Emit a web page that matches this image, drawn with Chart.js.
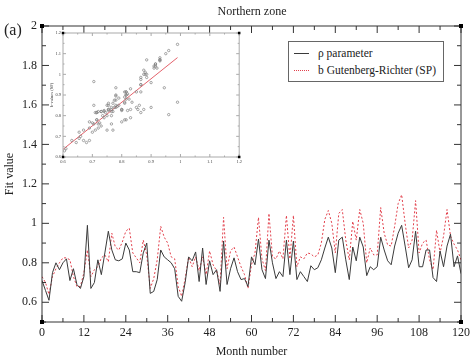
<!DOCTYPE html>
<html>
<head>
<meta charset="utf-8">
<script src="https://cdn.jsdelivr.net/npm/chart.js@4"></script>
<style>
  body{ margin:0; background:#fff; }
  #wrap{ position:relative; width:474px; height:362px; font-family:'Liberation Serif', serif; color:#222; }
  #mainChart{ position:absolute; left:0; top:0; }
  #insetChart{ position:absolute; left:44px; top:28px; }
  #title{ position:absolute; left:152px; width:200px; top:4px; text-align:center; font-size:12px; font-family:'Liberation Serif', serif; }
  #tag{ position:absolute; left:4px; top:22px; font-size:16px; line-height:16px; font-family:'Liberation Serif', serif; }
  #legend{ position:absolute; left:288px; top:41px; width:154px; height:39px; border:1px solid #666; background:#fff; font-size:11.5px; font-family:'Liberation Serif', serif; }
  #legend .row{ position:absolute; left:0; height:14px; line-height:14px; white-space:nowrap; }
  #legend .swatch{ position:absolute; left:5px; top:7px; width:15px; height:0; }
  #legend .lbl{ position:absolute; left:29px; top:0; }
</style>
</head>
<body>
<div id="wrap">
  <canvas id="mainChart" width="474" height="362"></canvas>
  <canvas id="insetChart" width="200" height="140"></canvas>
  <div id="title">Northern zone</div>
  <div id="tag">(a)</div>
  <div id="legend"></div>
</div>
<script>
// month index 0..120
const months = Array.from({length:121}, (_, i) => i);

// rho parameter (black solid)
const rhoValues = [
  0.71,0.66,0.61,0.75,0.80,0.765,0.80,0.82,0.71,0.77,
  0.69,0.67,0.73,0.99,0.67,0.70,0.815,0.74,0.85,0.96,
  0.865,0.815,0.81,0.82,0.90,0.865,0.755,0.755,0.75,0.85,
  0.90,0.645,0.655,0.715,0.865,0.83,0.815,0.80,0.77,0.63,
  0.605,0.70,0.83,0.81,0.855,0.705,0.875,0.69,0.81,0.74,
  0.765,0.655,0.91,0.69,0.77,0.825,0.755,0.715,0.72,0.68,
  0.83,0.79,0.92,0.765,0.72,0.915,0.80,0.72,0.755,0.73,
  0.915,0.74,0.91,0.715,0.755,0.73,0.705,0.785,0.765,0.775,
  0.815,0.875,0.93,0.875,0.75,0.915,0.93,0.815,0.715,0.88,
  0.81,0.93,0.88,0.735,0.78,0.765,0.78,0.93,0.865,0.81,
  0.79,0.885,0.95,0.99,0.885,0.775,0.815,0.96,0.78,0.78,
  0.865,0.865,0.725,0.705,0.86,0.78,0.885,0.945,0.78,0.835,
  0.745
];

// b Gutenberg-Richter (SP) (red dashed)
const bValues = [
  0.73,0.70,0.64,0.73,0.77,0.80,0.825,0.825,0.815,0.73,
  0.68,0.68,0.75,0.865,0.73,0.765,0.78,0.825,0.84,0.805,
  0.95,0.88,0.865,0.905,0.96,0.975,0.85,0.825,0.80,0.915,
  0.84,0.67,0.72,0.815,0.985,0.93,0.90,0.83,0.82,0.68,
  0.63,0.72,0.83,0.78,0.83,0.76,0.83,0.74,0.86,0.79,
  0.76,0.69,1.03,0.77,0.86,0.88,0.83,0.78,0.74,0.67,
  0.79,0.85,1.03,0.82,0.76,1.05,0.83,0.82,0.86,0.82,
  1.04,0.82,1.04,0.78,0.83,0.82,0.85,0.845,0.83,0.84,
  0.90,1.02,1.065,1.0,0.85,1.05,1.07,0.915,0.815,1.01,
  0.915,1.07,1.0,0.80,0.875,0.84,0.84,1.08,0.95,0.89,
  0.885,0.985,1.10,1.145,1.0,0.875,0.915,1.115,0.85,0.90,
  0.915,0.815,0.765,0.965,0.85,0.935,1.07,0.935,0.895,0.865,
  0.815
];

// inset linear fit (b vs rho)
const fitX = [0.6, 0.99];
const fitY = [0.637, 1.081];

const FONT = "'Liberation Serif', serif";
const TXT = '#222';

function isMult(v, step){ const r = v/step; return Math.abs(r - Math.round(r)) < 1e-6; }
function fmt(v){ return String(+v.toFixed(2)); }

// box frame, inward ticks on all four sides, corner squares
const framePlugin = {
  id:'frame',
  afterDatasetsDraw(chart, args, o){
    const {ctx, chartArea:a, scales:{x, y}} = chart;
    ctx.save();
    ctx.strokeStyle = o.color; ctx.lineWidth = 1;
    ctx.strokeRect(a.left, a.top, a.right - a.left, a.bottom - a.top);
    ctx.beginPath();
    x.ticks.forEach(t=>{
      const px = x.getPixelForValue(t.value);
      const len = isMult(t.value, o.majorX) ? o.major : o.minor;
      ctx.moveTo(px, a.bottom); ctx.lineTo(px, a.bottom - len);
      ctx.moveTo(px, a.top); ctx.lineTo(px, a.top + len);
    });
    y.ticks.forEach(t=>{
      const py = y.getPixelForValue(t.value);
      const len = isMult(t.value, o.majorY) ? o.major : o.minor;
      ctx.moveTo(a.left, py); ctx.lineTo(a.left + len, py);
      ctx.moveTo(a.right, py); ctx.lineTo(a.right - len, py);
    });
    ctx.stroke();
    ctx.fillStyle = '#000';
    const s = o.square;
    [[a.left,a.top],[a.right,a.top],[a.left,a.bottom],[a.right,a.bottom]].forEach(([cx,cy])=>{
      ctx.fillRect(cx - s/2, cy - s/2, s, s);
    });
    ctx.restore();
  }
};

const mainChart = new Chart(document.getElementById('mainChart').getContext('2d'), {
  type:'line',
  data:{
    datasets:[
      { label:'ρ parameter', data: months.map((m,i)=>({x:m, y:rhoValues[i]})),
        borderColor:'#3a3a3a', borderWidth:1, pointRadius:0, tension:0 },
      { label:'b Gutenberg-Richter (SP)', data: months.map((m,i)=>({x:m, y:bValues[i]})),
        borderColor:'#e2404c', borderWidth:1, borderDash:[2,2], pointRadius:0, tension:0 }
    ]
  },
  options:{
    responsive:false, animation:false,
    layout:{ padding:{ top:26, right:11, left:0, bottom:0 } },
    plugins:{
      legend:{ display:false }, tooltip:{ enabled:false },
      frame:{ color:'#333', major:7, minor:4, majorX:12, majorY:0.2, square:4 }
    },
    scales:{
      x:{
        type:'linear', min:0, max:120,
        ticks:{ stepSize:6, autoSkip:false, maxRotation:0, padding:4, color:TXT,
          font:{ family:FONT, size:12 },
          callback: v => isMult(v, 12) ? String(v) : '' },
        grid:{ drawOnChartArea:false, drawTicks:false },
        border:{ display:false },
        title:{ display:true, text:'Month number', color:TXT, font:{ family:FONT, size:12 }, padding:{ top:0, bottom:3 } },
        afterFit: s => { s.height = 40; }
      },
      y:{
        min:0.5, max:2,
        ticks:{ stepSize:0.1, autoSkip:false, padding:5, color:TXT,
          font:{ family:FONT, size:12 },
          callback: v => isMult(v, 0.2) ? fmt(v) : '' },
        grid:{ drawOnChartArea:false, drawTicks:false },
        border:{ display:false },
        title:{ display:true, text:'Fit value', color:TXT, font:{ family:FONT, size:12 }, padding:{ top:3, bottom:0 } },
        afterFit: s => { s.width = 42; }
      }
    }
  },
  plugins:[framePlugin]
});

// legend from the datasets
const legendEl = document.getElementById('legend');
mainChart.data.datasets.forEach((ds, i)=>{
  const row = document.createElement('div');
  row.className = 'row';
  row.style.top = (4 + i*16.5) + 'px';
  const sw = document.createElement('span');
  sw.className = 'swatch';
  sw.style.borderTop = '1px ' + (ds.borderDash ? 'dotted ' : 'solid ') + ds.borderColor;
  const lb = document.createElement('span');
  lb.className = 'lbl';
  lb.textContent = ds.label;
  row.appendChild(sw); row.appendChild(lb);
  legendEl.appendChild(row);
});

// inset scatter: b-value vs rho
new Chart(document.getElementById('insetChart').getContext('2d'), {
  type:'scatter',
  data:{
    datasets:[
      { data: rhoValues.map((r,i)=>({x:r, y:bValues[i]})),
        pointRadius:1.2, pointBorderWidth:0.7, pointBorderColor:'#808080', pointBackgroundColor:'rgba(0,0,0,0)',
        showLine:false },
      { type:'line', data: fitX.map((v,i)=>({x:v, y:fitY[i]})),
        borderColor:'#e0505a', borderWidth:0.9, pointRadius:0 }
    ]
  },
  options:{
    responsive:false, animation:false,
    layout:{ padding:{ top:5, right:3, left:0, bottom:0 } },
    plugins:{
      legend:{ display:false }, tooltip:{ enabled:false },
      frame:{ color:'#aaa', major:3, minor:1.5, majorX:0.1, majorY:0.1, square:2.5 }
    },
    scales:{
      x:{
        type:'linear', min:0.6, max:1.2,
        ticks:{ stepSize:0.05, autoSkip:false, maxRotation:0, padding:2, color:'#444',
          font:{ family:FONT, size:4.5 },
          callback: v => isMult(v, 0.1) ? fmt(v) : '' },
        grid:{ drawOnChartArea:false, drawTicks:false },
        border:{ display:false },
        afterFit: s => { s.height = 11; }
      },
      y:{
        min:0.6, max:1.2,
        ticks:{ stepSize:0.05, autoSkip:false, padding:2, color:'#444',
          font:{ family:FONT, size:4.5 },
          callback: v => isMult(v, 0.1) ? fmt(v) : '' },
        grid:{ drawOnChartArea:false, drawTicks:false },
        border:{ display:false },
        title:{ display:true, text:'b-values (SP)', color:'#444', font:{ family:FONT, size:4.5 }, padding:{ top:5, bottom:0 } },
        afterFit: s => { s.width = 19; }
      }
    }
  },
  plugins:[framePlugin]
});
</script>
</body>
</html>
